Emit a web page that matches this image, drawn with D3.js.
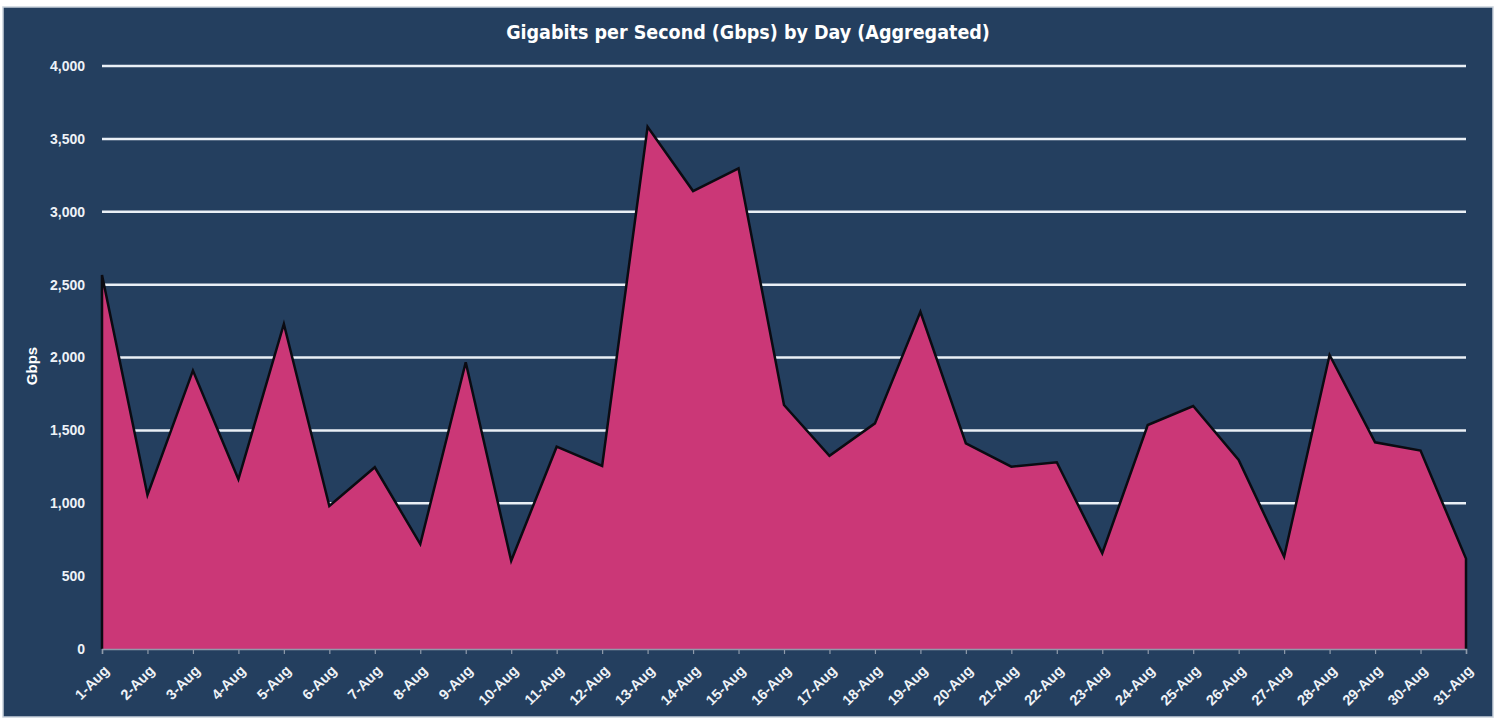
<html>
<head>
<style>
  body { margin: 0; background: #ffffff; }
  svg { display: block; }
</style>
</head>
<body>
<svg id="chart" width="1496" height="720"></svg>
<script src="https://d3js.org/d3.v7.min.js"></script>
<script>
// days of August and aggregated Gbps
var days = ["1-Aug","2-Aug","3-Aug","4-Aug","5-Aug","6-Aug","7-Aug","8-Aug","9-Aug","10-Aug",
            "11-Aug","12-Aug","13-Aug","14-Aug","15-Aug","16-Aug","17-Aug","18-Aug","19-Aug","20-Aug",
            "21-Aug","22-Aug","23-Aug","24-Aug","25-Aug","26-Aug","27-Aug","28-Aug","29-Aug","30-Aug","31-Aug"];
var gbps = [2566, 1057, 1910, 1164, 2230, 981, 1247, 720, 1967, 605,
            1388, 1256, 3583, 3142, 3298, 1674, 1326, 1548, 2314, 1411,
            1251, 1281, 657, 1537, 1667, 1297, 633, 2017, 1418, 1361, 620];
var yTicks = [0, 500, 1000, 1500, 2000, 2500, 3000, 3500, 4000];

var titleText = "Gigabits per Second (Gbps) by Day (Aggregated)";
var yLabel = "Gbps";

var svg = d3.select("#chart");
var margin = {top: 66, right: 30, bottom: 71, left: 102};
var width = 1466 - margin.left, height = 649 - margin.top;

// background panel
svg.append("rect")
  .attr("x", 3).attr("y", 7)
  .attr("width", 1490).attr("height", 710)
  .attr("fill", "#243F5F")
  .attr("stroke", "#c9d2dc")
  .attr("stroke-width", 1.5);

svg.append("text")
  .attr("x", 748).attr("y", 39)
  .attr("text-anchor", "middle")
  .attr("fill", "#ffffff")
  .style("font-family", "'DejaVu Sans Condensed', 'Liberation Sans', sans-serif")
  .style("font-stretch", "condensed")
  .style("font-weight", "bold")
  .style("font-size", "19.5px")
  .text(titleText);

var g = svg.append("g")
  .attr("transform", "translate(" + margin.left + "," + margin.top + ")");

var x = d3.scalePoint().domain(days).range([0, width]);
var y = d3.scaleLinear().domain([0, 4000]).range([height, 0]);

// gridlines
g.append("g")
  .selectAll("line")
  .data(yTicks.filter(function(d) { return d > 0; }))
  .enter().append("line")
  .attr("x1", 0).attr("x2", width)
  .attr("y1", function(d) { return y(d); })
  .attr("y2", function(d) { return y(d); })
  .attr("stroke", "#eaf0f6")
  .attr("stroke-width", 2.5);

// y axis labels
var yAxis = g.append("g")
  .call(d3.axisLeft(y).tickValues(yTicks).tickFormat(d3.format(",")).tickSize(0).tickPadding(17));
yAxis.select(".domain").remove();
yAxis.selectAll("text")
  .attr("fill", "#eef2f7")
  .style("font-family", "'Liberation Sans', Arial, sans-serif")
  .style("font-weight", "bold")
  .style("font-size", "14px");

// area
var area = d3.area()
  .x(function(d, i) { return x(days[i]); })
  .y0(y(0))
  .y1(function(d) { return y(d); });

g.append("path")
  .datum(gbps)
  .attr("d", area)
  .attr("fill", "#CB3777");

// outline: left edge, top line, right edge
var outline = [[x(days[0]), y(0)]]
  .concat(gbps.map(function(d, i) { return [x(days[i]), y(d)]; }))
  .concat([[x(days[days.length - 1]), y(0)]]);
g.append("path")
  .attr("d", d3.line()(outline))
  .attr("fill", "none")
  .attr("stroke", "#0b0b12")
  .attr("stroke-width", 2.5)
  .attr("stroke-linejoin", "miter");

// x axis
var xAxis = g.append("g")
  .attr("transform", "translate(0," + height + ")")
  .call(d3.axisBottom(x).tickSize(5).tickPadding(0));
xAxis.select(".domain").attr("stroke", "#8f9bab").attr("stroke-width", 1.5);
xAxis.selectAll(".tick line").attr("stroke", "#8f9bab").attr("stroke-width", 1.2);
xAxis.selectAll("text")
  .attr("fill", "#eef2f7")
  .style("font-family", "'Liberation Sans', Arial, sans-serif")
  .style("font-weight", "bold")
  .style("font-size", "14.5px")
  .attr("text-anchor", "end")
  .attr("y", 0)
  .attr("dy", "0.35em")
  .attr("transform", "translate(4,19) rotate(-45)");

// y axis title
svg.append("text")
  .attr("transform", "translate(37,366) rotate(-90)")
  .attr("text-anchor", "middle")
  .attr("fill", "#ffffff")
  .style("font-family", "'Liberation Sans', Arial, sans-serif")
  .style("font-weight", "bold")
  .style("font-size", "15px")
  .text(yLabel);
</script>
</body>
</html>
